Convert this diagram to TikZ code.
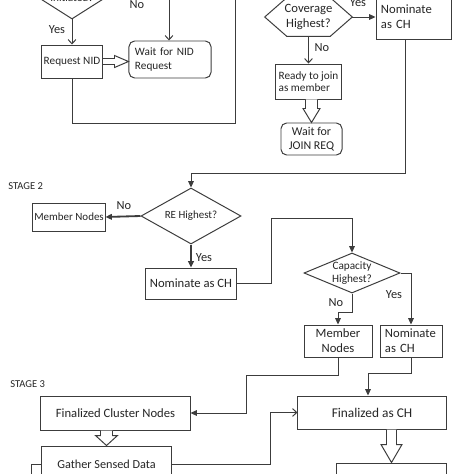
\documentclass[tikz,border=0pt]{standalone}
\usepackage{fontspec}
\setmainfont{Carlito}
\usepackage{xcolor}
\usetikzlibrary{arrows.meta, positioning, calc, shapes.geometric}
\definecolor{fline}{HTML}{3C3C3C}
\definecolor{ftext}{HTML}{262626}
\newcommand{\fsn}{\fontsize{8}{9.5}\selectfont}
\newcommand{\fsb}{\fontsize{9}{10.8}\selectfont}
\newcommand{\fsl}{\fontsize{8.8}{10}\selectfont}
\newcommand{\fss}{\fontsize{7.5}{9}\selectfont}
\tikzset{
  box/.style={draw=fline, line width=0.7pt, text=ftext, inner sep=0pt, align=center, font=\fsn},
  roundbox/.style={box, rounded corners=4pt},
  decision/.style={diamond, draw=fline, line width=0.7pt, text=ftext, inner sep=0pt, align=center, font=\fsn},
  lbl/.style={text=ftext, inner sep=0pt, font=\fsl},
  conn/.style={draw=fline, line width=0.7pt},
  boldconn/.style={draw=fline, line width=1.3pt},
  tipfill/.style={-{Triangle[length=4.5pt,width=4pt]}},
  tipopen/.style={-{Straight Barb[length=3pt,width=5.5pt]}},
  fatarrow/.style={draw=fline, line width=0.7pt, fill=white, line join=miter},
}
\newcommand{\hollowdown}[5]{%
  \coordinate (hd-top) at (#1.south -| #2.north);
  \draw[fatarrow] ($(hd-top)+(-#3,0)$) -- ($(#2.north)+(-#3,-#5)$) -- ($(#2.north)+(-#4,-#5)$)
    -- (#2.north) -- ($(#2.north)+(#4,-#5)$) -- ($(#2.north)+(#3,-#5)$) -- ($(hd-top)+(#3,0)$);}

\begin{document}
\begin{tikzpicture}[x=0.025cm, y=-0.025cm]
\fill[white] (0,0) rectangle (474,474);
\useasboundingbox (0,0) rectangle (474,474);
\clip (0,0) rectangle (474,474);

\node[decision, minimum width=1.65cm, minimum height=1.05cm, aspect=1.57] (init) at (72,-2) {Initiated?};
\node[box, minimum width=1.525cm, minimum height=0.825cm] (reqnid) at (72,61.5) {Request NID};
\node[roundbox, minimum height=0.925cm, text width=1.75cm, inner xsep=0.15cm, align=left] (waitnid) at (170,59.5) {Wait for NID\\Request};
\node[minimum width=2.175cm, minimum height=0.95cm, inner sep=0pt, align=center, text=ftext, font=\fsb] (cov) at (308.5,17) {Coverage\\Highest?};
\node[box, minimum height=1.1cm, text width=1.625cm, inner xsep=0.125cm, align=left, font=\fsb] (nomcov) at (413.5,17) {Nominate\\as CH};
\node[box, minimum width=1.65cm, minimum height=0.875cm, align=left, font=\fontsize{8}{8.6}\selectfont] (ready) at (308.5,81.5) {Ready to join\\as member};
\node[roundbox, minimum width=1.525cm, minimum height=0.8cm, font=\fontsize{8.5}{10}\selectfont] (waitjoin) at (311.5,139) {Wait for\\JOIN REQ};

\node[lbl, font=\fss, anchor=west] (stage2) at (8,186) {STAGE 2};
\node[box, minimum width=1.8cm, minimum height=0.7cm, font=\fontsize{7.8}{9}\selectfont] (mem1) at (69,217) {Member Nodes};
\node[decision, minimum width=2.5cm, minimum height=1.4cm, aspect=1.79, font=\fontsize{7.8}{9}\selectfont] (re) at (191,216) {RE Highest?};
\node[box, minimum width=2.25cm, minimum height=0.775cm, font=\fsb] (nom2) at (191,283.5) {Nominate as CH};
\node[decision, minimum width=2.4cm, minimum height=1.0cm, aspect=2.4, font=\fontsize{8}{9.3}\selectfont] (cap) at (352,273) {Capacity\\Highest?};
\node[box, minimum width=1.7cm, minimum height=0.8cm, font=\fsb] (mem2) at (338,341) {Member\\Nodes};
\node[box, minimum height=0.8cm, text width=1.3cm, inner xsep=0.125cm, align=left, font=\fsb] (nom3) at (411,341) {Nominate\\as CH};

\node[lbl, font=\fss, anchor=west] (stage3) at (10,384) {STAGE 3};
\node[box, minimum width=3.725cm, minimum height=0.85cm, font=\fsb] (fincl) at (115.5,413) {Finalized Cluster Nodes};
\node[box, minimum width=3.225cm, minimum height=0.9cm, font=\fontsize{8.7}{10}\selectfont] (gather) at (106.5,464) {Gather Sensed Data};
\node[box, minimum width=3.7cm, minimum height=0.825cm, font=\fontsize{9.5}{11}\selectfont] (finch) at (372,412.5) {Finalized as CH};
\node[box, minimum width=2.725cm, minimum height=0.85cm] (ch3) at (391.5,480) {};

\node[lbl] (yes1) at (57,30) {Yes};
\node[lbl] (no1) at (137,5) {No};
\node[lbl] (yes2) at (358,3) {Yes};
\node[lbl] (no2) at (322,48) {No};
\node[lbl] (no3) at (124,206) {No};
\node[lbl] (yes3) at (204,258) {Yes};
\node[lbl] (no4) at (336,303) {No};
\node[lbl] (yes4) at (394,295) {Yes};

\draw[conn] (cov.west) -- ([xshift=0.55cm]cov.north west) -- ([xshift=-0.55cm]cov.north east) -- (cov.east)
  -- ([xshift=-0.55cm]cov.south east) -- ([xshift=0.55cm]cov.south west) -- cycle;

\coordinate (nidin) at (169,-5);
\coordinate (looptop) at (235,-5);
\coordinate (gloop) at (31,480);
\draw[conn, tipopen] (init.south) -- (reqnid.north);
\draw[conn, tipopen] (nidin) -- (nidin |- waitnid.north);
\draw[conn] (reqnid.south) |- ($(looptop)+(0,128)$) -- (looptop);
\coordinate (hb) at (reqnid.east -| waitnid.west);
\draw[fatarrow] ($(reqnid.east)+(0,-3)$) -- ($(hb)+(-14,-3)$) -- ($(hb)+(-14,-6)$) -- (hb)
  -- ($(hb)+(-14,6)$) -- ($(hb)+(-14,3)$) -- ($(reqnid.east)+(0,3)$);
\draw[conn, tipfill] (cov.east) -- (nomcov.west);
\draw[conn, tipopen] (cov.south) -- (ready.north);
\hollowdown{ready}{waitjoin}{6}{8.5}{14}
\draw[conn, tipfill] ([xshift=-0.19cm]nomcov.south) |- ($(re.north)+(0,-14)$) -- (re.north);

\draw[boldconn, tipfill] (re.west) -- (mem1.east);
\draw[boldconn, tipfill] (re.south) -- (nom2.north);
\draw[conn, tipfill] (nom2.east) -- ++(35,0) |- ($(cap.north)+(0,-34)$) -- (cap.north);
\draw[conn, tipfill] (cap.south) -- ++(0,19) -| (mem2.north);
\draw[conn, tipfill] (cap.east) -| (nom3.north);

\draw[conn, tipfill] (mem2.south) -- ++(0,18) -| ($(fincl.east)+(56,0)$) -- (fincl.east);
\draw[conn, tipfill] (nom3.south) -- ++(0,16) -| ([xshift=-0.1cm]finch.north);
\hollowdown{fincl}{gather}{6}{11}{10}
\hollowdown{finch}{ch3}{5}{10.5}{18}
\draw[conn, tipopen] (gather.east) -| ($(finch.west)+(-27,0)$) -- (finch.west);
\draw[conn] (gather.west) -| (gloop);
\end{tikzpicture}
\end{document}
